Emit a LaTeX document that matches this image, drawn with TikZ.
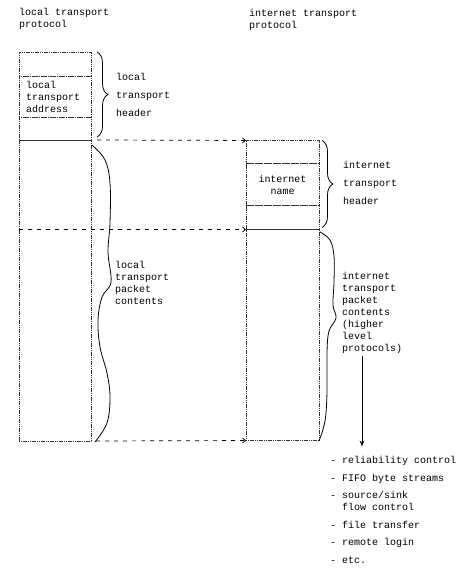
\documentclass[tikz,border=0pt]{standalone}
\usepackage{fontspec}
\setmonofont{Liberation Mono}
\usetikzlibrary{positioning}
\usetikzlibrary{decorations.pathreplacing}
\usetikzlibrary{arrows.meta}

\begin{document}
\begin{tikzpicture}[x=1pt,y=-1pt,
  field/.style={draw=black!80,line width=0.6pt,dash pattern=on 1.2pt off 0.6pt,
    minimum width=72pt,inner sep=0pt,outer sep=0pt,font=\ttfamily},
  lbl/.style={inner sep=0pt,align=left,anchor=north west,font=\ttfamily},
  link/.style={line width=0.7pt,dash pattern=on 4pt off 5pt,-{Straight Barb[length=3pt,width=5pt]}},
  hdrbrace/.style={decorate,decoration={brace,amplitude=11pt},line width=0.8pt},
  hand/.style={line width=0.8pt,line join=round}]
 \useasboundingbox (0,0) rectangle (474,578);
 % titles
 \node[lbl] (ltitle) at (19,8.5) {local transport\\protocol};
 \node[lbl] (ititle) at (249,9.5) {internet transport\\protocol};
 % local transport packet
 \node[field,minimum height=24pt,anchor=north west] (lt1) at (19,52) {};
 \node[field,minimum height=41pt,below=0pt of lt1,text width=58pt,inner xsep=7pt,align=left] (lt2) {local\\transport\\address};
 \node[field,minimum height=23pt,below=0pt of lt2] (lt3) {};
 \node[field,minimum height=301pt,below=0pt of lt3] (lt4) {};
 % internet transport packet
 \node[field,minimum height=23pt,minimum width=73pt,anchor=north west] (it1) at (246,140.5) {};
 \node[field,minimum height=42pt,minimum width=73pt,below=0pt of it1,align=center] (it2) {internet\\name};
 \node[field,minimum height=24pt,minimum width=73pt,below=0pt of it2] (it3) {};
 \node[field,minimum height=211pt,minimum width=73pt,below=0pt of it3] (it4) {};
 % mapping
 \draw[link] ([xshift=6pt]lt4.north east) -- (it1.north west);
 \draw[link] (lt4.west |- it4.north west) -- (it4.north west);
 \draw[link] ([xshift=5pt]lt4.south east) -- (it4.south west);
 % braces and labels
 \draw[hdrbrace] ([xshift=6pt]lt1.north east) -- ([xshift=6pt,yshift=3pt]lt3.south east);
 \node[lbl] (lhdr) at (116,73.5) {local\\[6pt]transport\\[6pt]header};
 \draw[hand] plot[smooth,tension=0.6] coordinates {(92,145) (105,160) (110,183) (110,223)
   (108,252) (111,282) (102,297) (98,320) (100,347) (107,373) (110,397) (107,423) (95,442)};
 \node[lbl] (lbody) at (115,261.5) {local\\transport\\packet\\contents};
 \draw[hdrbrace] ([xshift=3pt]it1.north east) -- ([xshift=3pt,yshift=2pt]it3.south east);
 \node[lbl] (ihdr) at (343,161.5) {internet\\[6pt]transport\\[6pt]header};
 \draw[hand] plot[smooth,tension=0.6] coordinates {(320,232) (330,240) (334,256) (334,282)
   (333,305) (336,318) (329,331) (327,352) (327,392) (325,421) (319,441)};
 \node[lbl] (ctext) at (342,272.5) {internet\\transport\\packet\\contents\\(higher\\level\\protocols)};
 % higher level services
 \node[lbl] (list) at (330,456.5) {- reliability control\\[5.5pt]- FIFO byte streams\\[5.5pt]- source/sink\\\hphantom{- }flow control\\[5.5pt]- file transfer\\[5.5pt]- remote login\\[5.5pt]- etc.};
 \draw[line width=0.7pt,-{Stealth[length=6pt,width=4.5pt]}] ([xshift=20pt,yshift=-2pt]ctext.south west) -- ([xshift=32pt,yshift=10pt]list.north west);
\end{tikzpicture}
\end{document}
